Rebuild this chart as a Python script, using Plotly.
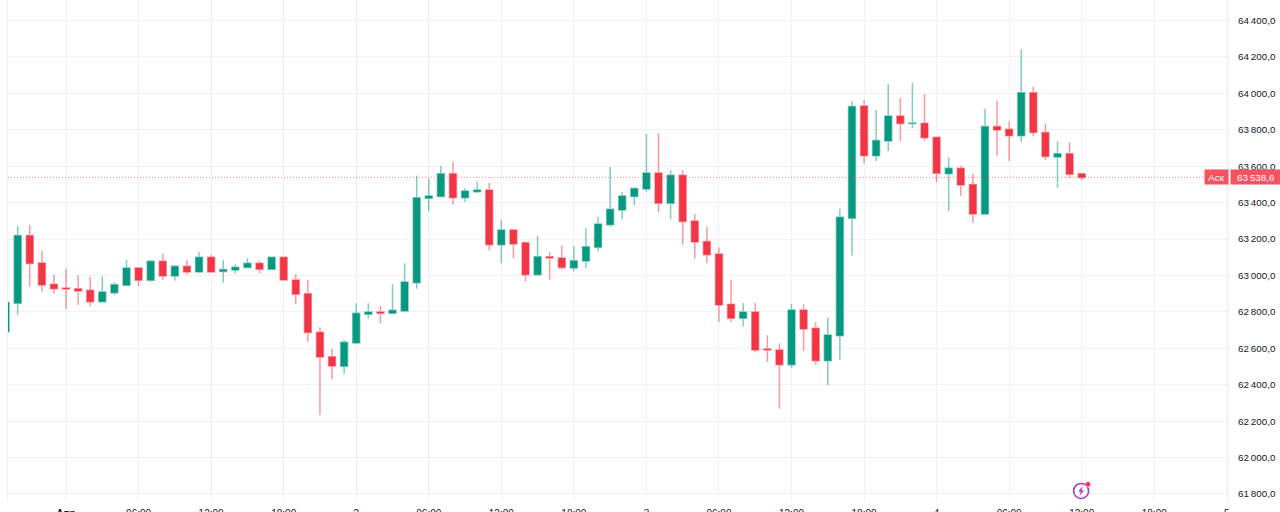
import pandas as pd
import plotly.graph_objects as go

open_ = [62691,62847,63219,63069,62952,62931,62927,62919,62856,62905,62946,63041,62974,63078,62997,63051,63019,63100,
         63021,63030,63043,63067,63034,63100,62975,62900,62688,62554,62501,62629,62787,62799,62792,62805,62960,63424,
         63433,63559,63427,63460,63470,63169,63250,63179,63004,63102,63096,63041,63080,63155,63279,63360,63433,63475,
         63563,63397,63551,63299,63186,63118,62842,62765,62799,62596,62591,62510,62810,62710,62532,62669,63314,63931,
         63657,63739,63876,63834,63836,63759,63559,63589,63499,63338,63818,63803,63768,64004,63785,63651,63668,63559]
high = [62851,63272,63277,63136,63004,63036,63001,62992,62996,62963,63085,63045,63083,63118,63056,63085,63129,63113,
        63085,63062,63094,63078,63100,63100,63007,62975,62715,62596,62646,62847,62847,62832,62952,63067,63547,63532,
        63602,63624,63481,63514,63508,63305,63250,63188,63217,63124,63164,63160,63259,63323,63596,63459,63485,63778,
        63783,63578,63578,63336,63268,63155,62977,62849,62849,62671,62627,62845,62842,62743,62768,63367,63957,63964,
        63909,64052,63974,64059,63997,63763,63649,63602,63558,63915,63959,63845,64241,64036,63832,63737,63732,63562]
low = [62691,62783,62938,62911,62900,62816,62838,62829,62856,62893,62946,62942,62966,62975,62971,63004,63019,63015,
       62960,63010,63043,63010,63034,62975,62842,62636,62233,62431,62459,62629,62763,62737,62785,62805,62927,63354,
       63433,63389,63404,63452,63140,63069,63096,62964,63004,62977,63032,63023,63041,63133,63268,63310,63387,63460,
       63345,63310,63168,63091,63069,62746,62746,62719,62578,62525,62268,62493,62587,62510,62398,62536,63109,63613,
       63629,63684,63739,63810,63739,63510,63354,63438,63290,63338,63657,63629,63734,63763,63633,63482,63537,63523]
close = [62851,63219,63065,62948,62927,62926,62915,62856,62909,62949,63041,62974,63078,62997,63051,63019,63100,63019,
         63032,63045,63067,63034,63100,62975,62897,62686,62552,62503,62633,62792,62799,62792,62809,62964,63427,63437,
         63559,63427,63464,63470,63169,63250,63173,63004,63102,63096,63043,63081,63158,63283,63364,63437,63477,63563,
         63397,63551,63296,63184,63114,62838,62765,62799,62591,62591,62510,62810,62706,62532,62673,63320,63928,63657,
         63741,63876,63834,63838,63757,63562,63589,63497,63338,63818,63799,63768,64004,63785,63653,63668,63556,63538.6]
last_price = 63538.6

time = pd.date_range("2024-03-31 19:00", periods=len(close), freq="h")
tick_times = pd.date_range("2024-04-01 00:00", "2024-04-05 00:00", freq="6h")
tick_labels = ["<b>Апр</b>", "06:00", "12:00", "18:00", "2", "06:00", "12:00", "18:00", "3", "06:00", "12:00", "18:00",
               "4", "06:00", "12:00", "18:00", "5"]
price_ticks = list(range(61800, 64600, 200))

GREEN = "#089981"
RED = "#F23645"
TAG = "#F7525F"
GRID = "#F0F1F3"
TEXT = "#131722"
FONT = "Liberation Sans"
PURPLE = "#A63CC4"

fig = go.Figure(go.Candlestick(
    x=time, open=open_, high=high, low=low, close=close,
    increasing=dict(fillcolor=GREEN, line=dict(color="rgba(8,153,129,0.5)", width=1.5)),
    decreasing=dict(fillcolor=RED, line=dict(color="rgba(242,54,69,0.5)", width=1.5)),
    showlegend=False,
))

# dotted last price line
fig.add_shape(type="line", xref="paper", x0=0, x1=1, yref="y", y0=last_price, y1=last_price,
              line=dict(color="rgba(242,54,69,0.6)", width=1, dash="1px,2px"))

# lightning icon near the bottom right
ix, iy = 0.8796, 0.02
icon = dict(xref="paper", yref="paper", xsizemode="pixel", ysizemode="pixel", xanchor=ix, yanchor=iy)
fig.add_shape(type="circle", x0=-7.5, x1=7.5, y0=-7.5, y1=7.5,
              line=dict(color=PURPLE, width=1.6), fillcolor="white", **icon)
fig.add_shape(type="path", path="M1.5,5 L-3,-0.5 L-0.3,-0.5 L-1.5,-5 L3,0.8 L0.3,0.8 Z",
              line=dict(width=0), fillcolor=PURPLE, **icon)
fig.add_shape(type="circle", x0=4.2, x1=9.6, y0=4, y1=9.4,
              line=dict(color="white", width=0.6), fillcolor=RED, **icon)

# price tags on the axis
fig.add_annotation(xref="paper", yref="y", x=1, y=last_price, xanchor="right", xshift=1, text="Аск",
                   showarrow=False, bgcolor=TAG, width=23, height=14, borderpad=0,
                   font=dict(family=FONT, size=9.8, color="white"))
fig.add_annotation(xref="paper", yref="y", x=1, y=last_price, xanchor="left", xshift=2, text="63\u2009538,6",
                   showarrow=False, bgcolor=TAG, width=50, height=14, borderpad=0,
                   font=dict(family=FONT, size=9.8, color="white"))

fig.update_layout(
    width=1280, height=512,
    margin=dict(l=8, r=52, t=0, b=11),
    paper_bgcolor="white", plot_bgcolor="white",
    separators=",\u2009",
    boxgap=0.18,
    showlegend=False,
    font=dict(family=FONT, size=10, color=TEXT),
    xaxis=dict(
        type="date", range=["2024-03-31 19:12", "2024-04-05 00:06"],
        rangeslider=dict(visible=False), automargin=False,
        tickvals=tick_times, ticktext=tick_labels, tickangle=0,
        ticks="outside", ticklen=3, tickcolor="rgba(0,0,0,0)",
        showgrid=True, gridcolor=GRID, gridwidth=1, zeroline=False, showline=False,
    ),
    yaxis=dict(
        side="right", range=[61761, 64513], automargin=False,
        tickvals=price_ticks, tickformat=",.1f", tickfont=dict(size=9.8),
        ticks="outside", ticklen=7, tickcolor="rgba(0,0,0,0)",
        showgrid=True, gridcolor=GRID, gridwidth=1, zeroline=False,
        showline=True, linecolor=GRID, linewidth=1, mirror=True,
    ),
)

# page body has a default margin, take it off so the chart fills the window
fig.write_html("out.html", config={"displayModeBar": False}, post_script="document.body.style.margin='0';")
